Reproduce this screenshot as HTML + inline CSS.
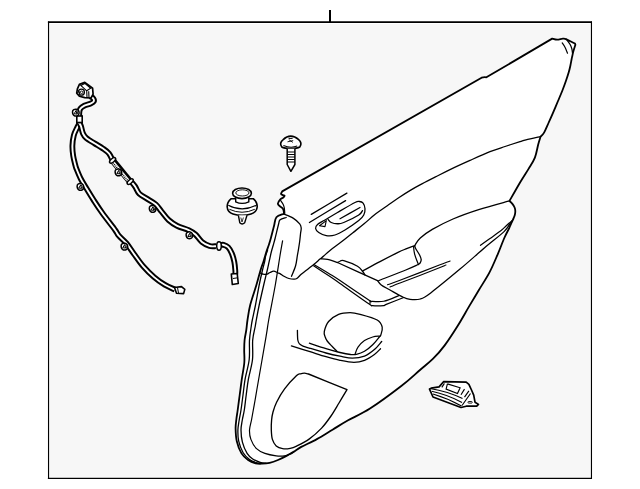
<!DOCTYPE html>
<html><head><meta charset="utf-8"><title>Door Trim Panel</title>
<style>html,body{margin:0;padding:0;background:#fff;width:640px;height:489px;overflow:hidden;font-family:"Liberation Sans",sans-serif}svg{display:block}</style>
</head><body>
<svg width="640" height="489" viewBox="0 0 640 489">
<rect x="0" y="0" width="640" height="489" fill="#fff"/>
<rect x="50" y="24" width="540" height="452.8" fill="#f7f7f7"/>
<path d="M47.9 22.2H592" stroke="#000" stroke-width="1.7" fill="none"/>
<path d="M48.55 21.4V478.9M591.45 21.4V478.9" stroke="#000" stroke-width="1.15" fill="none"/>
<path d="M47.9 478.35H592" stroke="#000" stroke-width="1.1" fill="none"/>
<path d="M330 10V22" stroke="#000" stroke-width="2"/>
<g stroke-linecap="round" stroke-linejoin="round">
<path d="M282.2 191.4L481.6 77.7Q484 76.9 486.4 77.3L552.2 38.6L552.20 38.60C553.03 38.78 555.42 39.68 557.20 39.70C558.98 39.72 561.35 38.77 562.90 38.70C564.45 38.63 564.48 38.48 566.50 39.30C568.52 40.12 573.58 42.88 575.00 43.60L575.40 44.70C575.05 45.83 573.82 49.62 573.30 51.50C572.78 53.38 572.58 54.72 572.30 56.00C572.02 57.28 571.90 57.70 571.60 59.20C571.30 60.70 570.97 62.85 570.50 65.00C570.03 67.15 569.57 69.43 568.80 72.10C568.03 74.77 566.97 77.93 565.90 81.00C564.83 84.07 563.72 87.17 562.40 90.50C561.08 93.83 559.55 97.32 558.00 101.00C556.45 104.68 554.68 108.93 553.10 112.60C551.52 116.27 550.03 119.62 548.50 123.00C546.97 126.38 545.22 130.63 543.90 132.90C542.58 135.17 541.15 135.98 540.60 136.60L540.60 136.60C540.20 137.92 539.15 141.00 538.20 144.50C537.25 148.00 536.53 153.50 534.90 157.60C533.27 161.70 530.85 165.00 528.40 169.10C525.95 173.20 523.35 176.90 520.20 182.20C517.05 187.50 511.28 197.78 509.50 200.90L509.50 200.90C509.98 201.40 511.55 202.80 512.40 203.90C513.25 205.00 514.12 206.32 514.60 207.50C515.08 208.68 515.27 209.75 515.30 211.00C515.33 212.25 515.13 213.67 514.80 215.00C514.47 216.33 513.55 218.33 513.30 219.00L513.30 219.00C512.95 219.75 511.88 221.98 511.20 223.50C510.52 225.02 510.35 225.68 509.20 228.10C508.05 230.52 506.22 233.63 504.30 238.00C502.38 242.37 500.17 248.57 497.70 254.30C495.23 260.03 492.63 266.45 489.50 272.40C486.37 278.35 482.30 284.33 478.90 290.00C475.50 295.67 472.65 300.40 469.10 306.40C465.55 312.40 461.70 319.47 457.60 326.00C453.50 332.53 448.58 340.15 444.50 345.60C440.42 351.05 437.18 354.63 433.10 358.70C429.02 362.77 425.25 365.48 420.00 370.00C414.75 374.52 409.93 379.37 401.60 385.80C393.27 392.23 378.92 402.85 370.00 408.60C361.08 414.35 354.35 416.78 348.10 420.30C341.85 423.82 337.70 426.57 332.50 429.70C327.30 432.83 322.11 436.23 316.90 439.10C311.69 441.97 305.07 444.83 301.25 446.90C297.43 448.97 296.46 450.00 294.00 451.50C291.54 453.00 289.17 454.48 286.50 455.90C283.83 457.32 280.82 458.85 278.00 460.00C275.18 461.15 272.25 462.18 269.60 462.80C266.95 463.42 264.43 463.62 262.10 463.70C259.77 463.78 257.93 463.92 255.60 463.30C253.27 462.68 250.45 461.65 248.10 460.00C245.75 458.35 243.38 456.53 241.50 453.40C239.62 450.27 237.78 445.33 236.80 441.20C235.82 437.07 235.67 432.30 235.60 428.60C235.53 424.90 236.05 422.10 236.40 419.00C236.75 415.90 237.15 414.00 237.70 410.00C238.25 406.00 239.02 400.13 239.70 395.00C240.38 389.87 241.03 384.57 241.80 379.20C242.57 373.83 243.90 367.67 244.30 362.80C244.70 357.93 244.15 353.80 244.20 350.00C244.25 346.20 244.25 343.33 244.60 340.00C244.95 336.67 245.82 333.33 246.30 330.00C246.78 326.67 246.85 324.17 247.50 320.00C248.15 315.83 248.72 310.83 250.20 305.00C251.68 299.17 254.67 290.83 256.40 285.00C258.13 279.17 259.42 273.93 260.60 270.00C261.78 266.07 262.55 264.40 263.50 261.40C264.45 258.40 265.42 254.73 266.30 252.00C267.18 249.27 268.03 247.33 268.80 245.00C269.57 242.67 270.03 241.17 270.90 238.00C271.77 234.83 273.08 229.47 274.00 226.00C274.92 222.53 274.83 219.20 276.40 217.20C277.97 215.20 282.23 214.53 283.40 214.00L283.40 214.00C283.50 213.82 284.10 213.80 284.00 212.90C283.90 212.00 283.52 209.73 282.80 208.60C282.08 207.47 280.52 206.92 279.70 206.10C278.88 205.28 277.80 204.82 277.90 203.70C278.00 202.58 279.38 200.43 280.30 199.40C281.22 198.37 282.68 198.12 283.40 197.50C284.12 196.88 284.70 196.10 284.60 195.70C284.50 195.30 283.40 195.42 282.80 195.10C282.20 194.78 281.10 194.42 281.00 193.80C280.90 193.18 282.00 191.80 282.20 191.40Z" fill="#fff" stroke="#000" stroke-width="1.8" stroke-linejoin="round"/>
<path d="M280.50 200.30C280.95 201.00 282.57 203.22 283.20 204.50C283.83 205.78 284.03 206.50 284.30 208.00C284.57 209.50 284.72 212.58 284.80 213.50" fill="none" stroke="#000" stroke-width="1.2" />
<path d="M566.50 39.30C567.08 40.13 569.12 42.75 570.00 44.30C570.88 45.85 571.38 47.17 571.80 48.60C572.22 50.03 572.38 52.18 572.50 52.90" fill="none" stroke="#000" stroke-width="1.3" />
<path d="M562.20 42.90C562.67 43.62 564.12 45.48 565.00 47.20C565.88 48.92 567.08 52.20 567.50 53.20" fill="none" stroke="#000" stroke-width="1.2" />
<path d="M540.60 136.60C538.17 137.13 529.43 138.97 526.00 139.80C522.57 140.63 523.50 140.48 520.00 141.60C516.50 142.72 510.00 144.82 505.00 146.50C500.00 148.18 495.83 149.38 490.00 151.70C484.17 154.02 476.67 157.42 470.00 160.40C463.33 163.38 455.83 166.80 450.00 169.60C444.17 172.40 440.00 174.65 435.00 177.20C430.00 179.75 424.05 182.75 420.00 184.90C415.95 187.05 414.25 187.97 410.70 190.10C407.15 192.23 402.60 195.10 398.70 197.70C394.80 200.30 391.12 203.02 387.30 205.70C383.48 208.38 379.62 210.83 375.80 213.80C371.98 216.77 368.22 220.35 364.40 223.50C360.58 226.65 356.72 229.65 352.90 232.70C349.08 235.75 345.32 238.85 341.50 241.80C337.68 244.75 332.97 248.03 330.00 250.40C327.03 252.77 325.37 254.55 323.70 256.00C322.03 257.45 322.03 257.40 320.00 259.10C317.97 260.80 313.83 264.30 311.50 266.20C309.17 268.10 307.72 269.15 306.00 270.50C304.28 271.85 302.73 272.97 301.20 274.30C299.67 275.63 298.03 277.68 296.80 278.50C295.57 279.32 295.12 279.20 293.80 279.20C292.48 279.20 290.53 279.00 288.90 278.50C287.27 278.00 285.48 277.02 284.00 276.20C282.52 275.38 281.03 274.17 280.00 273.60C278.97 273.03 278.85 273.20 277.80 272.80C276.75 272.40 275.00 271.25 273.70 271.20C272.40 271.15 271.22 271.97 270.00 272.50C268.78 273.03 267.65 274.15 266.40 274.40C265.15 274.65 263.47 274.20 262.50 274.00C261.53 273.80 260.92 273.33 260.60 273.20" fill="none" stroke="#000" stroke-width="1.3" />
<path d="M283.40 214.00C285.02 214.68 290.38 216.45 293.10 218.10C295.82 219.75 298.35 222.25 299.70 223.90C301.05 225.55 301.05 226.48 301.20 228.00C301.35 229.52 300.87 230.67 300.60 233.00C300.33 235.33 300.00 239.00 299.60 242.00C299.20 245.00 298.58 248.67 298.20 251.00C297.82 253.33 297.73 253.55 297.30 256.00C296.87 258.45 296.57 262.32 295.60 265.70C294.63 269.08 292.18 274.53 291.50 276.30" fill="none" stroke="#000" stroke-width="1.3" />
<path d="M267.60 250.00C267.27 251.00 266.08 254.10 265.60 256.00C265.12 257.90 265.22 259.07 264.70 261.40C264.18 263.73 263.42 266.07 262.50 270.00C261.58 273.93 260.37 279.17 259.20 285.00C258.03 290.83 256.65 299.17 255.50 305.00C254.35 310.83 253.00 316.50 252.30 320.00C251.60 323.50 251.77 322.67 251.30 326.00C250.83 329.33 249.85 334.42 249.50 340.00C249.15 345.58 249.93 352.97 249.20 359.50C248.47 366.03 246.13 373.28 245.10 379.20C244.07 385.12 243.68 389.87 243.00 395.00C242.32 400.13 241.63 405.83 241.00 410.00C240.37 414.17 239.72 416.67 239.20 420.00C238.68 423.33 237.98 426.47 237.90 430.00C237.82 433.53 237.85 437.45 238.70 441.20C239.55 444.95 241.20 449.45 243.00 452.50C244.80 455.55 247.33 457.83 249.50 459.50C251.67 461.17 253.92 461.87 256.00 462.50C258.08 463.13 261.00 463.17 262.00 463.30" fill="none" stroke="#000" stroke-width="1.3" />
<path d="M286.20 217.50C285.18 217.87 281.37 218.62 280.10 219.70C278.83 220.78 279.42 220.95 278.60 224.00C277.78 227.05 276.08 234.50 275.20 238.00C274.32 241.50 273.95 242.67 273.30 245.00C272.65 247.33 271.98 249.27 271.30 252.00C270.62 254.73 269.87 258.40 269.20 261.40C268.53 264.40 268.22 266.07 267.30 270.00C266.38 273.93 265.05 279.17 263.70 285.00C262.35 290.83 260.43 299.17 259.20 305.00C257.97 310.83 256.95 316.50 256.30 320.00C255.65 323.50 255.90 322.67 255.30 326.00C254.70 329.33 253.17 334.42 252.70 340.00C252.23 345.58 253.22 352.97 252.50 359.50C251.78 366.03 249.45 373.28 248.40 379.20C247.35 385.12 246.88 389.87 246.20 395.00C245.52 400.13 244.95 405.83 244.30 410.00C243.65 414.17 242.85 416.67 242.30 420.00C241.75 423.33 240.98 426.30 241.00 430.00C241.02 433.70 241.38 438.30 242.40 442.20C243.42 446.10 245.38 450.60 247.10 453.40C248.82 456.20 250.52 457.52 252.70 459.00C254.88 460.48 257.98 461.60 260.20 462.30C262.42 463.00 265.03 463.05 266.00 463.20" fill="none" stroke="#000" stroke-width="1.3" />
<path d="M282.60 240.80C282.18 243.17 281.32 247.63 280.10 255.00C278.88 262.37 277.20 274.17 275.30 285.00C273.40 295.83 270.23 311.43 268.70 320.00C267.17 328.57 268.08 324.73 266.10 336.40C264.12 348.07 258.63 379.40 256.80 390.00C254.97 400.60 255.68 396.67 255.10 400.00C254.52 403.33 253.90 406.67 253.30 410.00C252.70 413.33 252.13 416.67 251.50 420.00C250.87 423.33 249.60 426.77 249.50 430.00C249.40 433.23 249.73 436.28 250.90 439.40C252.07 442.52 254.17 446.37 256.50 448.70C258.83 451.03 261.62 452.22 264.90 453.40C268.18 454.58 272.92 455.40 276.20 455.80C279.48 456.20 282.30 456.05 284.60 455.80C286.90 455.55 288.43 454.93 290.00 454.30C291.57 453.67 293.33 452.38 294.00 452.00" fill="none" stroke="#000" stroke-width="1.2" />
<path d="M311.25 214.40C317.19 210.85 340.96 196.65 346.90 193.10" fill="none" stroke="#000" stroke-width="1.3" />
<path d="M309.40 222.50C315.43 218.85 339.57 204.25 345.60 200.60" fill="none" stroke="#000" stroke-width="1.3" />
<path d="M317.50 224.40C315.93 225.82 315.39 227.15 315.60 228.50C315.81 229.85 316.98 231.32 318.75 232.50C320.52 233.68 323.54 235.18 326.25 235.60C328.96 236.02 331.88 235.93 335.00 235.00C338.12 234.07 341.04 232.40 345.00 230.00C348.96 227.60 355.62 223.10 358.75 220.60C361.88 218.10 362.71 216.97 363.75 215.00C364.79 213.03 365.11 210.73 365.00 208.75C364.89 206.77 364.03 204.31 363.10 203.10C362.17 201.89 360.75 201.60 359.40 201.50C358.05 201.40 358.65 200.67 355.00 202.50C351.35 204.33 342.50 209.58 337.50 212.50C332.50 215.42 328.33 218.02 325.00 220.00C321.67 221.98 319.07 222.98 317.50 224.40Z" fill="#fff" stroke="#000" stroke-width="1.3" />
<path d="M328.10 219.40C328.62 219.92 329.68 221.78 331.25 222.50C332.82 223.22 335.42 223.75 337.50 223.75C339.58 223.75 340.21 223.96 343.75 222.50C347.29 221.04 355.62 216.98 358.75 215.00C361.88 213.02 361.88 211.33 362.50 210.60" fill="none" stroke="#000" stroke-width="1.3" />
<path d="M340.00 218.75C343.33 216.88 356.67 209.38 360.00 207.50" fill="none" stroke="#000" stroke-width="1.2" />
<path d="M319.5 225.8L325 226.6L326.3 220.6Z" fill="#fff" stroke="#000" stroke-width="1.1" />
<path d="M509.50 200.90C504.37 202.35 488.12 206.58 478.70 209.60C469.28 212.62 460.73 215.70 453.00 219.00C445.27 222.30 437.75 226.23 432.30 229.40C426.85 232.57 423.15 235.43 420.30 238.00C417.45 240.57 416.08 243.53 415.20 244.80C414.32 246.07 415.03 245.47 415.00 245.60" fill="none" stroke="#000" stroke-width="1.3" />
<path d="M362.60 271.00C365.50 269.43 374.10 264.70 380.00 261.60C385.90 258.50 393.67 254.52 398.00 252.40C402.33 250.28 403.30 250.00 406.00 248.90C408.70 247.80 412.83 246.32 414.20 245.80" fill="none" stroke="#000" stroke-width="1.3" />
<path d="M414.60 245.70C414.77 246.17 414.77 246.95 415.60 248.50C416.43 250.05 418.67 253.15 419.60 255.00C420.53 256.85 421.10 258.28 421.20 259.60C421.30 260.92 420.68 262.08 420.20 262.90C419.72 263.72 418.62 264.23 418.30 264.50" fill="none" stroke="#000" stroke-width="1.3" />
<path d="M413.50 246.30C413.68 247.58 413.80 251.00 414.60 254.00C415.40 257.00 417.68 262.58 418.30 264.30" fill="none" stroke="#000" stroke-width="1.2" />
<path d="M418.30 264.50C416.22 265.42 412.39 267.32 405.80 270.00C399.21 272.68 383.26 278.83 378.75 280.60" fill="none" stroke="#000" stroke-width="1.3" />
<path d="M321.25 258.75C322.29 258.86 324.79 258.77 327.50 259.40C330.21 260.02 335.83 261.98 337.50 262.50" fill="none" stroke="#000" stroke-width="1.3" />
<path d="M337.50 262.50C344.17 265.52 370.83 277.58 377.50 280.60" fill="none" stroke="#000" stroke-width="1.3" />
<path d="M377.50 280.60C378.12 281.33 379.17 283.43 381.25 285.00C383.33 286.57 386.46 288.02 390.00 290.00C393.54 291.98 399.17 295.33 402.50 296.90C405.83 298.47 407.02 299.05 410.00 299.40C412.98 299.75 416.95 300.08 420.40 299.00C423.85 297.92 424.10 297.88 430.70 292.90C437.30 287.92 451.02 276.62 460.00 269.10C468.98 261.58 477.22 254.08 484.60 247.80C491.98 241.52 499.93 235.63 504.30 231.40C508.67 227.17 509.72 223.90 510.80 222.40" fill="none" stroke="#000" stroke-width="1.3" />
<path d="M337.50 262.50C337.92 262.29 338.96 261.57 340.00 261.25C341.04 260.93 340.83 259.77 343.75 260.60C346.67 261.43 354.38 264.48 357.50 266.25C360.62 268.02 361.25 269.79 362.50 271.25C363.75 272.71 364.58 274.38 365.00 275.00" fill="none" stroke="#000" stroke-width="1.3" />
<path d="M387.50 284.80C389.58 284.05 391.25 283.63 400.00 280.30C408.75 276.97 431.65 268.02 440.00 264.80C448.35 261.58 448.42 261.63 450.10 261.00" fill="none" stroke="#000" stroke-width="1.1" />
<path d="M390.00 287.00C391.67 286.33 391.67 286.23 400.00 283.00C408.33 279.77 432.33 270.60 440.00 267.60C447.67 264.60 445.00 265.43 446.00 265.00" fill="none" stroke="#000" stroke-width="1.1" />
<path d="M512.40 220.30C511.33 221.25 507.78 224.38 506.00 226.00C504.22 227.62 504.37 227.92 501.70 230.00C499.03 232.08 493.53 235.95 490.00 238.50C486.47 241.05 482.08 244.17 480.50 245.30" fill="none" stroke="#000" stroke-width="1.2" />
<path d="M314.30 264.80C316.92 266.37 325.72 271.57 330.00 274.20C334.28 276.83 333.54 276.30 340.00 280.60C346.46 284.90 363.54 296.56 368.75 300.00C373.96 303.44 368.75 301.04 371.25 301.25C373.75 301.46 379.17 302.19 383.75 301.25C388.33 300.31 396.25 296.54 398.75 295.60" fill="none" stroke="#000" stroke-width="1.2" />
<path d="M313.60 265.80C316.33 267.60 325.60 273.65 330.00 276.60C334.40 279.55 333.54 278.98 340.00 283.50C346.46 288.02 363.33 300.07 368.75 303.75C374.17 307.43 370.00 305.29 372.50 305.60C375.00 305.91 381.46 305.80 383.75 305.60C386.04 305.40 382.92 305.75 386.25 304.40C389.58 303.05 400.83 298.65 403.75 297.50" fill="none" stroke="#000" stroke-width="1.2" />
<path d="M370.00 300.60C370.00 301.12 370.00 303.23 370.00 303.75" fill="none" stroke="#000" stroke-width="1.1" />
<path d="M337.20 351.50C336.33 350.63 333.67 348.05 332.00 346.30C330.33 344.55 328.33 342.55 327.20 341.00C326.07 339.45 325.68 338.58 325.20 337.00C324.72 335.42 323.73 334.08 324.30 331.50C324.87 328.92 326.22 324.37 328.60 321.50C330.98 318.63 335.02 315.78 338.60 314.30C342.18 312.82 346.52 312.60 350.10 312.60C353.68 312.60 355.58 313.07 360.10 314.30C364.62 315.53 373.52 317.85 377.20 320.00C380.88 322.15 381.60 324.70 382.20 327.20C382.80 329.70 381.22 333.45 380.80 335.00C380.38 336.55 379.88 336.25 379.70 336.50" fill="none" stroke="#000" stroke-width="1.3" />
<path d="M309.40 343.20C312.17 344.10 320.90 347.05 326.00 348.60C331.10 350.15 335.90 351.52 340.00 352.50C344.10 353.48 347.87 354.18 350.60 354.50C353.33 354.82 354.08 354.93 356.40 354.40C358.72 353.87 361.78 352.92 364.50 351.30C367.22 349.68 370.23 347.08 372.70 344.70C375.17 342.32 378.20 338.28 379.30 337.00" fill="none" stroke="#000" stroke-width="1.3" />
<path d="M355.10 354.10C355.58 352.95 356.43 349.45 358.00 347.20C359.57 344.95 362.05 342.30 364.50 340.60C366.95 338.90 370.17 337.75 372.70 337.00C375.23 336.25 378.53 336.25 379.70 336.10" fill="none" stroke="#000" stroke-width="1.2" />
<path d="M297.40 330.30C297.47 331.92 297.45 337.73 297.80 340.00C298.15 342.27 298.72 342.93 299.50 343.90C300.28 344.87 300.75 345.07 302.50 345.80C304.25 346.53 306.08 347.10 310.00 348.30C313.92 349.50 321.00 351.68 326.00 353.00C331.00 354.32 335.62 355.33 340.00 356.20C344.38 357.07 348.22 358.20 352.30 358.20C356.38 358.20 360.82 357.63 364.50 356.20C368.18 354.77 371.53 352.05 374.40 349.60C377.27 347.15 380.48 342.85 381.70 341.50" fill="none" stroke="#000" stroke-width="1.3" />
<path d="M291.40 345.90C294.50 346.87 304.23 349.90 310.00 351.70C315.77 353.50 321.00 355.27 326.00 356.70C331.00 358.13 335.35 359.37 340.00 360.30C344.65 361.23 349.82 362.30 353.90 362.30C357.98 362.30 361.08 361.60 364.50 360.30C367.92 359.00 371.73 356.42 374.40 354.50C377.07 352.58 379.48 349.75 380.50 348.80" fill="none" stroke="#000" stroke-width="1.3" />
<path d="M347.00 389.60C345.67 391.83 341.67 398.60 339.00 403.00C336.33 407.40 333.90 411.82 331.00 416.00C328.10 420.18 325.25 424.25 321.60 428.10C317.95 431.95 313.27 436.10 309.10 439.10C304.93 442.10 299.75 444.55 296.60 446.10C293.45 447.65 292.52 447.97 290.20 448.40C287.88 448.83 285.03 449.12 282.70 448.70C280.37 448.28 277.92 447.45 276.20 445.90C274.48 444.35 273.22 442.05 272.40 439.40C271.58 436.75 271.43 433.23 271.30 430.00C271.17 426.77 271.32 423.00 271.60 420.00C271.88 417.00 272.17 414.97 273.00 412.00C273.83 409.03 274.67 406.05 276.60 402.20C278.53 398.35 281.27 393.33 284.60 388.90C287.93 384.47 293.95 378.12 296.60 375.60C299.25 373.08 299.18 374.20 300.50 373.80C301.82 373.40 303.17 373.17 304.50 373.20C305.83 373.23 307.83 373.87 308.50 374.00L308.50 374.00C314.92 376.60 340.58 387.00 347.00 389.60Z" fill="none" stroke="#000" stroke-width="1.35" />
</g>
<path d="M281.8 147C280.2 144.8 280.4 141.8 283.2 139.6C285.5 137.3 288.2 136.1 290.7 136.1C293.2 136.1 296.2 137.3 298.4 139.4C301.2 141.8 301.4 144.8 299.8 147C296.5 149 285 149 281.8 147Z" fill="#fff" stroke="#000" stroke-width="1.6"/><path d="M283.4 145.6Q290.7 148.5 297.2 146.1" fill="none" stroke="#000" stroke-width="1.1"/><path d="M287.5 141.8L293.2 140.6M288.8 139.6L292.8 142.4" fill="none" stroke="#000" stroke-width="0.9"/><path d="M288.6 138.4L292.6 138.4" fill="none" stroke="#000" stroke-width="1"/><path d="M287.2 148.8V164.5L290.9 171.3L294.9 164.5V148.8" fill="#fff" stroke="#000" stroke-width="1.5" stroke-linejoin="round"/><path d="M287.2 152H294.9M287.2 154.5H294.9M287.2 157H294.9M287.2 159.5H294.9M287.2 162H294.9" fill="none" stroke="#000" stroke-width="1.1"/>
<path d="M231 198.8C228.5 201 227 204 227.2 207C227.4 210.5 229.5 212.8 233 213.9C236 215 239 215.3 242 215.3C245 215.3 248 215 251 213.9C254.5 212.8 256.8 210.5 257.2 207C257.4 204 256 201 253.5 198.8Z" fill="#fff" stroke="#000" stroke-width="1.6"/><path d="M228.3 205.2Q242 212.6 256.5 205.2" fill="none" stroke="#000" stroke-width="1.2"/><path d="M229.4 209.3Q242 215.2 254.8 209.3" fill="none" stroke="#000" stroke-width="1"/><path d="M238.4 215.3L239.8 222.7Q242 225.2 244.7 222.7L247 215.3" fill="#fff" stroke="#000" stroke-width="1.4"/><path d="M240.8 217.5L242 222L243.4 217.5" fill="none" stroke="#000" stroke-width="0.8"/><path d="M235.7 197.5V201.8Q242 205 248.8 201.8V197.5" fill="#fff" stroke="#000" stroke-width="1.4"/><ellipse cx="242" cy="193.3" rx="9.4" ry="5.3" fill="#fff" stroke="#000" stroke-width="1.6"/><ellipse cx="242.4" cy="192.9" rx="6.6" ry="3.1" fill="none" stroke="#000" stroke-width="0.9"/>
<path d="M429.5 389.1L431.2 388.2L439.1 386.9L443.5 381.7L466.2 382.1L468.9 384.3L471.5 390L473.7 395.2L475 402.2L478.5 404.4L476.7 406.2L466.2 406.2L461 407.5L433 397Z" fill="#fff" stroke="#000" stroke-width="1.7" stroke-linejoin="round"/><path d="M444.4 383.4L441.8 387.4M447.4 383.9L460.1 387.8L457.5 393.5L446.1 389.1L447.4 383.9M464.5 389.1L461 394.8M468.9 390.9L464.5 397.2M470.5 393.5L462 405.5M431.2 388.8Q446 391 462.5 398.5M431.8 391.3Q447 394.5 462 402.5M433 394Q448 398.5 461.5 406" fill="none" stroke="#000" stroke-width="1.15"/><rect x="468" y="401.5" width="4.2" height="1.6" rx="0.6" fill="none" stroke="#000" stroke-width="0.9"/>
<path d="M90.50 96.50C90.97 96.83 92.75 97.68 93.30 98.50C93.85 99.32 94.27 100.55 93.80 101.40C93.33 102.25 92.07 102.88 90.50 103.60C88.93 104.32 86.10 104.85 84.40 105.70C82.70 106.55 81.15 107.52 80.30 108.70C79.45 109.88 79.47 111.25 79.30 112.80C79.13 114.35 79.28 116.27 79.30 118.00C79.32 119.73 79.38 122.33 79.40 123.20" fill="none" stroke="#000" stroke-width="5.8" stroke-linecap="butt" stroke-linejoin="round"/><path d="M90.50 96.50C90.97 96.83 92.75 97.68 93.30 98.50C93.85 99.32 94.27 100.55 93.80 101.40C93.33 102.25 92.07 102.88 90.50 103.60C88.93 104.32 86.10 104.85 84.40 105.70C82.70 106.55 81.15 107.52 80.30 108.70C79.45 109.88 79.47 111.25 79.30 112.80C79.13 114.35 79.28 116.27 79.30 118.00C79.32 119.73 79.38 122.33 79.40 123.20" fill="none" stroke="#fff" stroke-width="1.9" stroke-linecap="butt" stroke-linejoin="round"/><path d="M79.40 123.20C79.05 123.88 78.23 125.27 77.30 127.30C76.37 129.33 74.62 132.33 73.80 135.40C72.98 138.47 72.50 142.28 72.40 145.70C72.30 149.12 72.72 152.68 73.20 155.90C73.68 159.12 74.77 162.88 75.30 165.00C75.83 167.12 75.50 166.33 76.40 168.60C77.30 170.87 79.02 175.27 80.70 178.60C82.38 181.93 84.35 185.02 86.50 188.60C88.65 192.18 90.98 196.05 93.60 200.10C96.22 204.15 98.62 207.92 102.20 212.90C105.78 217.88 112.33 226.20 115.10 230.00C117.87 233.80 116.90 233.47 118.80 235.70C120.70 237.93 123.95 240.33 126.50 243.40C129.05 246.47 131.30 250.27 134.10 254.10C136.90 257.93 139.97 262.57 143.30 266.40C146.63 270.23 150.52 274.03 154.10 277.10C157.68 280.17 161.32 282.72 164.80 284.80C168.28 286.88 173.30 288.80 175.00 289.60" fill="none" stroke="#000" stroke-width="5.8" stroke-linecap="butt" stroke-linejoin="round"/><path d="M79.40 123.20C79.05 123.88 78.23 125.27 77.30 127.30C76.37 129.33 74.62 132.33 73.80 135.40C72.98 138.47 72.50 142.28 72.40 145.70C72.30 149.12 72.72 152.68 73.20 155.90C73.68 159.12 74.77 162.88 75.30 165.00C75.83 167.12 75.50 166.33 76.40 168.60C77.30 170.87 79.02 175.27 80.70 178.60C82.38 181.93 84.35 185.02 86.50 188.60C88.65 192.18 90.98 196.05 93.60 200.10C96.22 204.15 98.62 207.92 102.20 212.90C105.78 217.88 112.33 226.20 115.10 230.00C117.87 233.80 116.90 233.47 118.80 235.70C120.70 237.93 123.95 240.33 126.50 243.40C129.05 246.47 131.30 250.27 134.10 254.10C136.90 257.93 139.97 262.57 143.30 266.40C146.63 270.23 150.52 274.03 154.10 277.10C157.68 280.17 161.32 282.72 164.80 284.80C168.28 286.88 173.30 288.80 175.00 289.60" fill="none" stroke="#fff" stroke-width="1.9" stroke-linecap="butt" stroke-linejoin="round"/><path d="M79.40 123.20C79.67 123.70 80.40 124.48 81.00 126.20C81.60 127.92 82.12 131.53 83.00 133.50C83.88 135.47 84.40 136.37 86.30 138.00C88.20 139.63 91.68 141.58 94.40 143.30C97.12 145.02 100.17 146.60 102.60 148.30C105.03 150.00 107.30 151.43 109.00 153.50C110.70 155.57 112.17 159.50 112.80 160.70" fill="none" stroke="#000" stroke-width="5.8" stroke-linecap="butt" stroke-linejoin="round"/><path d="M79.40 123.20C79.67 123.70 80.40 124.48 81.00 126.20C81.60 127.92 82.12 131.53 83.00 133.50C83.88 135.47 84.40 136.37 86.30 138.00C88.20 139.63 91.68 141.58 94.40 143.30C97.12 145.02 100.17 146.60 102.60 148.30C105.03 150.00 107.30 151.43 109.00 153.50C110.70 155.57 112.17 159.50 112.80 160.70" fill="none" stroke="#fff" stroke-width="1.9" stroke-linecap="butt" stroke-linejoin="round"/><path d="M131.00 181.50C131.68 182.33 133.72 184.47 135.10 186.50C136.48 188.53 137.23 191.62 139.30 193.70C141.37 195.78 144.77 197.23 147.50 199.00C150.23 200.77 153.37 202.22 155.70 204.30C158.03 206.38 159.35 208.88 161.50 211.50C163.65 214.12 165.98 217.62 168.60 220.00C171.22 222.38 173.87 224.12 177.20 225.80C180.53 227.48 185.55 228.65 188.60 230.10C191.65 231.55 193.27 232.52 195.50 234.50C197.73 236.48 199.63 240.08 202.00 242.00C204.37 243.92 207.37 245.30 209.70 246.00C212.03 246.70 214.95 246.17 216.00 246.20" fill="none" stroke="#000" stroke-width="5.8" stroke-linecap="butt" stroke-linejoin="round"/><path d="M131.00 181.50C131.68 182.33 133.72 184.47 135.10 186.50C136.48 188.53 137.23 191.62 139.30 193.70C141.37 195.78 144.77 197.23 147.50 199.00C150.23 200.77 153.37 202.22 155.70 204.30C158.03 206.38 159.35 208.88 161.50 211.50C163.65 214.12 165.98 217.62 168.60 220.00C171.22 222.38 173.87 224.12 177.20 225.80C180.53 227.48 185.55 228.65 188.60 230.10C191.65 231.55 193.27 232.52 195.50 234.50C197.73 236.48 199.63 240.08 202.00 242.00C204.37 243.92 207.37 245.30 209.70 246.00C212.03 246.70 214.95 246.17 216.00 246.20" fill="none" stroke="#fff" stroke-width="1.9" stroke-linecap="butt" stroke-linejoin="round"/><path d="M221.00 245.00C221.37 244.95 222.02 244.33 223.20 244.70C224.38 245.07 226.67 245.77 228.10 247.20C229.53 248.63 230.77 250.85 231.80 253.30C232.83 255.75 233.72 259.03 234.30 261.90C234.88 264.77 235.13 268.40 235.30 270.50C235.47 272.60 235.30 273.83 235.30 274.50" fill="none" stroke="#000" stroke-width="5.8" stroke-linecap="butt" stroke-linejoin="round"/><path d="M221.00 245.00C221.37 244.95 222.02 244.33 223.20 244.70C224.38 245.07 226.67 245.77 228.10 247.20C229.53 248.63 230.77 250.85 231.80 253.30C232.83 255.75 233.72 259.03 234.30 261.90C234.88 264.77 235.13 268.40 235.30 270.50C235.47 272.60 235.30 273.83 235.30 274.50" fill="none" stroke="#fff" stroke-width="1.9" stroke-linecap="butt" stroke-linejoin="round"/><path d="M112.8 160.7L130 181.5" stroke="#000" stroke-width="6.6" fill="none"/><path d="M112.1 161.3L129.3 182.1" stroke="#fff" stroke-width="3.2" fill="none"/><path d="M111.9 161.5L129.1 182.3" stroke="#000" stroke-width="1.6" fill="none" stroke-dasharray="0.9 0.9"/><ellipse cx="112.6" cy="160.4" rx="1.8" ry="3.6" transform="rotate(50 112.6 160.4)" fill="#fff" stroke="#000" stroke-width="1.5"/><ellipse cx="130.2" cy="181.6" rx="1.8" ry="3.6" transform="rotate(50 130.2 181.6)" fill="#fff" stroke="#000" stroke-width="1.5"/><rect x="76.8" y="116" width="5.4" height="6.5" fill="#fff" stroke="#000" stroke-width="1.6"/><g transform="translate(75.8 112.5) rotate(0)"><path d="M-3.3 -0.5C-3.4 -2.8 -1.2 -3.6 0.6 -3.3C2.8 -2.9 3.6 -0.8 3.2 1.2C2.8 3.2 0.8 3.8 -1 3.4C-2.6 3 -3.2 1.6 -3.3 -0.5Z" fill="#fff" stroke="#000" stroke-width="1.5"/><path d="M-1.6 1.2L0.2 -1.8L1.2 1.6Z" fill="#fff" stroke="#000" stroke-width="1"/><path d="M0.4 -2.2Q2.4 -1 1.9 1.6" fill="none" stroke="#000" stroke-width="0.9"/></g><g transform="translate(80.4 186.8) rotate(0)"><path d="M-3.3 -0.5C-3.4 -2.8 -1.2 -3.6 0.6 -3.3C2.8 -2.9 3.6 -0.8 3.2 1.2C2.8 3.2 0.8 3.8 -1 3.4C-2.6 3 -3.2 1.6 -3.3 -0.5Z" fill="#fff" stroke="#000" stroke-width="1.5"/><path d="M-1.6 1.2L0.2 -1.8L1.2 1.6Z" fill="#fff" stroke="#000" stroke-width="1"/><path d="M0.4 -2.2Q2.4 -1 1.9 1.6" fill="none" stroke="#000" stroke-width="0.9"/></g><g transform="translate(124.4 246.5) rotate(0)"><path d="M-3.3 -0.5C-3.4 -2.8 -1.2 -3.6 0.6 -3.3C2.8 -2.9 3.6 -0.8 3.2 1.2C2.8 3.2 0.8 3.8 -1 3.4C-2.6 3 -3.2 1.6 -3.3 -0.5Z" fill="#fff" stroke="#000" stroke-width="1.5"/><path d="M-1.6 1.2L0.2 -1.8L1.2 1.6Z" fill="#fff" stroke="#000" stroke-width="1"/><path d="M0.4 -2.2Q2.4 -1 1.9 1.6" fill="none" stroke="#000" stroke-width="0.9"/></g><g transform="translate(118.4 172.3) rotate(0)"><path d="M-3.3 -0.5C-3.4 -2.8 -1.2 -3.6 0.6 -3.3C2.8 -2.9 3.6 -0.8 3.2 1.2C2.8 3.2 0.8 3.8 -1 3.4C-2.6 3 -3.2 1.6 -3.3 -0.5Z" fill="#fff" stroke="#000" stroke-width="1.5"/><path d="M-1.6 1.2L0.2 -1.8L1.2 1.6Z" fill="#fff" stroke="#000" stroke-width="1"/><path d="M0.4 -2.2Q2.4 -1 1.9 1.6" fill="none" stroke="#000" stroke-width="0.9"/></g><g transform="translate(152.6 208.8) rotate(0)"><path d="M-3.3 -0.5C-3.4 -2.8 -1.2 -3.6 0.6 -3.3C2.8 -2.9 3.6 -0.8 3.2 1.2C2.8 3.2 0.8 3.8 -1 3.4C-2.6 3 -3.2 1.6 -3.3 -0.5Z" fill="#fff" stroke="#000" stroke-width="1.5"/><path d="M-1.6 1.2L0.2 -1.8L1.2 1.6Z" fill="#fff" stroke="#000" stroke-width="1"/><path d="M0.4 -2.2Q2.4 -1 1.9 1.6" fill="none" stroke="#000" stroke-width="0.9"/></g><g transform="translate(189.4 235.2) rotate(0)"><path d="M-3.3 -0.5C-3.4 -2.8 -1.2 -3.6 0.6 -3.3C2.8 -2.9 3.6 -0.8 3.2 1.2C2.8 3.2 0.8 3.8 -1 3.4C-2.6 3 -3.2 1.6 -3.3 -0.5Z" fill="#fff" stroke="#000" stroke-width="1.5"/><path d="M-1.6 1.2L0.2 -1.8L1.2 1.6Z" fill="#fff" stroke="#000" stroke-width="1"/><path d="M0.4 -2.2Q2.4 -1 1.9 1.6" fill="none" stroke="#000" stroke-width="0.9"/></g><ellipse cx="219" cy="246" rx="2.3" ry="4.2" fill="#fff" stroke="#000" stroke-width="1.5"/><path d="M231.3 274L237.2 273.5L238.3 283.5L232.3 284.5Z" fill="#fff" stroke="#000" stroke-width="1.6" stroke-linejoin="round"/><path d="M233 278.5L237.5 277.8" stroke="#000" stroke-width="1" fill="none"/><path d="M174.5 287.5L181.5 286.6L184.8 289.4L183.6 293.6L176.5 293.3Z" fill="#fff" stroke="#000" stroke-width="1.6" stroke-linejoin="round"/><path d="M177.5 287.5L178.5 293" stroke="#000" stroke-width="1" fill="none"/><path d="M79.4 84.4L84.8 82.4L92.6 88.3L93.1 94.2L91 98L84.8 97.6L79.4 96.2L76.7 93.2L77.4 88.8Z" fill="#fff" stroke="#000" stroke-width="1.7" stroke-linejoin="round"/><path d="M80.8 85.4L84.8 83.4L90.7 88.3L86.7 90.8ZM86.7 90.8L87 97.4M88.7 91.3L89 97.6" fill="none" stroke="#000" stroke-width="1.1"/><circle cx="81.4" cy="92.2" r="3" fill="#fff" stroke="#000" stroke-width="1.3"/><circle cx="81.6" cy="92.3" r="1.3" fill="none" stroke="#000" stroke-width="0.9"/><path d="M76.6 93.2L79.4 91.7L79.5 94.6Z" fill="#fff" stroke="#000" stroke-width="1"/>
</svg>
</body></html>
